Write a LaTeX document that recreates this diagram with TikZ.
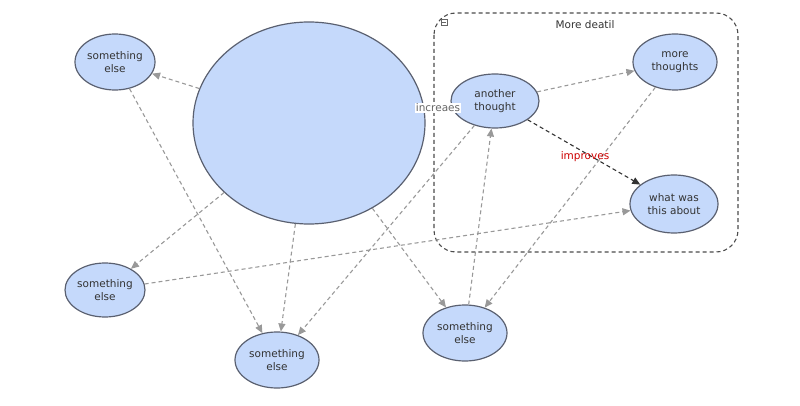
\documentclass[tikz,border=0pt]{standalone}
\usepackage{fontspec}
\setmainfont{DejaVu Sans}
\usetikzlibrary{shapes.geometric,arrows.meta}
\definecolor{nfill}{HTML}{C5D9FB}
\definecolor{nline}{HTML}{5A6070}
\tikzset{
 el/.style={ellipse,draw=nline,fill=nfill,line width=1.2pt,inner sep=0pt,align=center,font=\fontsize{10.5}{13}\selectfont,text=black!80},
 gl/.style={draw=black!40,dashed,line width=1.1pt,dash pattern=on 4pt off 3pt,-{Triangle[length=8pt,width=7pt]}},
 dl/.style={draw=black!80,dashed,line width=1.1pt,dash pattern=on 4pt off 3pt,-{Triangle[length=8pt,width=7pt]}},
}
\begin{document}
\begin{tikzpicture}[x=1pt,y=-1pt]
\useasboundingbox (0,0) rectangle (800,406);
\draw[black!70,dashed,line width=1.1pt,dash pattern=on 4pt off 3pt,rounded corners=22pt] (434,13) rectangle (738,252);
\node[font=\fontsize{10.5}{13}\selectfont,text=black!80] (title) at (585,25) {More deatil};
\node[draw=black!60,minimum size=6pt,inner sep=0pt,line width=0.6pt] (mini) at (444,22) {};
\draw[black!60,line width=0.6pt] (mini.west)++(1.2pt,0) -- ++(3.6pt,0);
\node[el,minimum width=232pt,minimum height=202pt] (big) at (309,123) {};
\node[el,minimum width=80pt,minimum height=56pt] (se1) at (115,62) {something\\else};
\node[el,minimum width=80pt,minimum height=54pt] (se2) at (105,290) {something\\else};
\node[el,minimum width=84pt,minimum height=56pt] (se3) at (277,360) {something\\else};
\node[el,minimum width=84pt,minimum height=56pt] (se4) at (465,333) {something\\else};
\node[el,minimum width=88pt,minimum height=54pt] (at) at (495,101) {another\\thought};
\node[el,minimum width=84pt,minimum height=56pt] (mt) at (675,62) {more\\thoughts};
\node[el,minimum width=88pt,minimum height=58pt] (ww) at (674,204) {what was\\this about};
\draw[gl] (big) -- (se1);
\draw[gl] (big) -- (se2);
\draw[gl] (big) -- (se3);
\draw[gl] (big) -- (se4);
\draw[gl] (se1) -- (se3);
\draw[gl] (se2) -- (ww);
\draw[gl] (at) -- (se3);
\draw[gl] (at) -- (mt);
\draw[gl] (se4) -- (at);
\draw[gl] (mt) -- (se4);
\draw[dl] (at) -- (ww);
\node[fill=white,inner sep=1pt,font=\fontsize{10.5}{13}\selectfont,text=black!60] (l1) at (438,108) {increaes};
\node[inner sep=1pt,font=\fontsize{10.5}{13}\selectfont,text=red!80!black] (l2) at (585,157) {improves};
\end{tikzpicture}
\end{document}
